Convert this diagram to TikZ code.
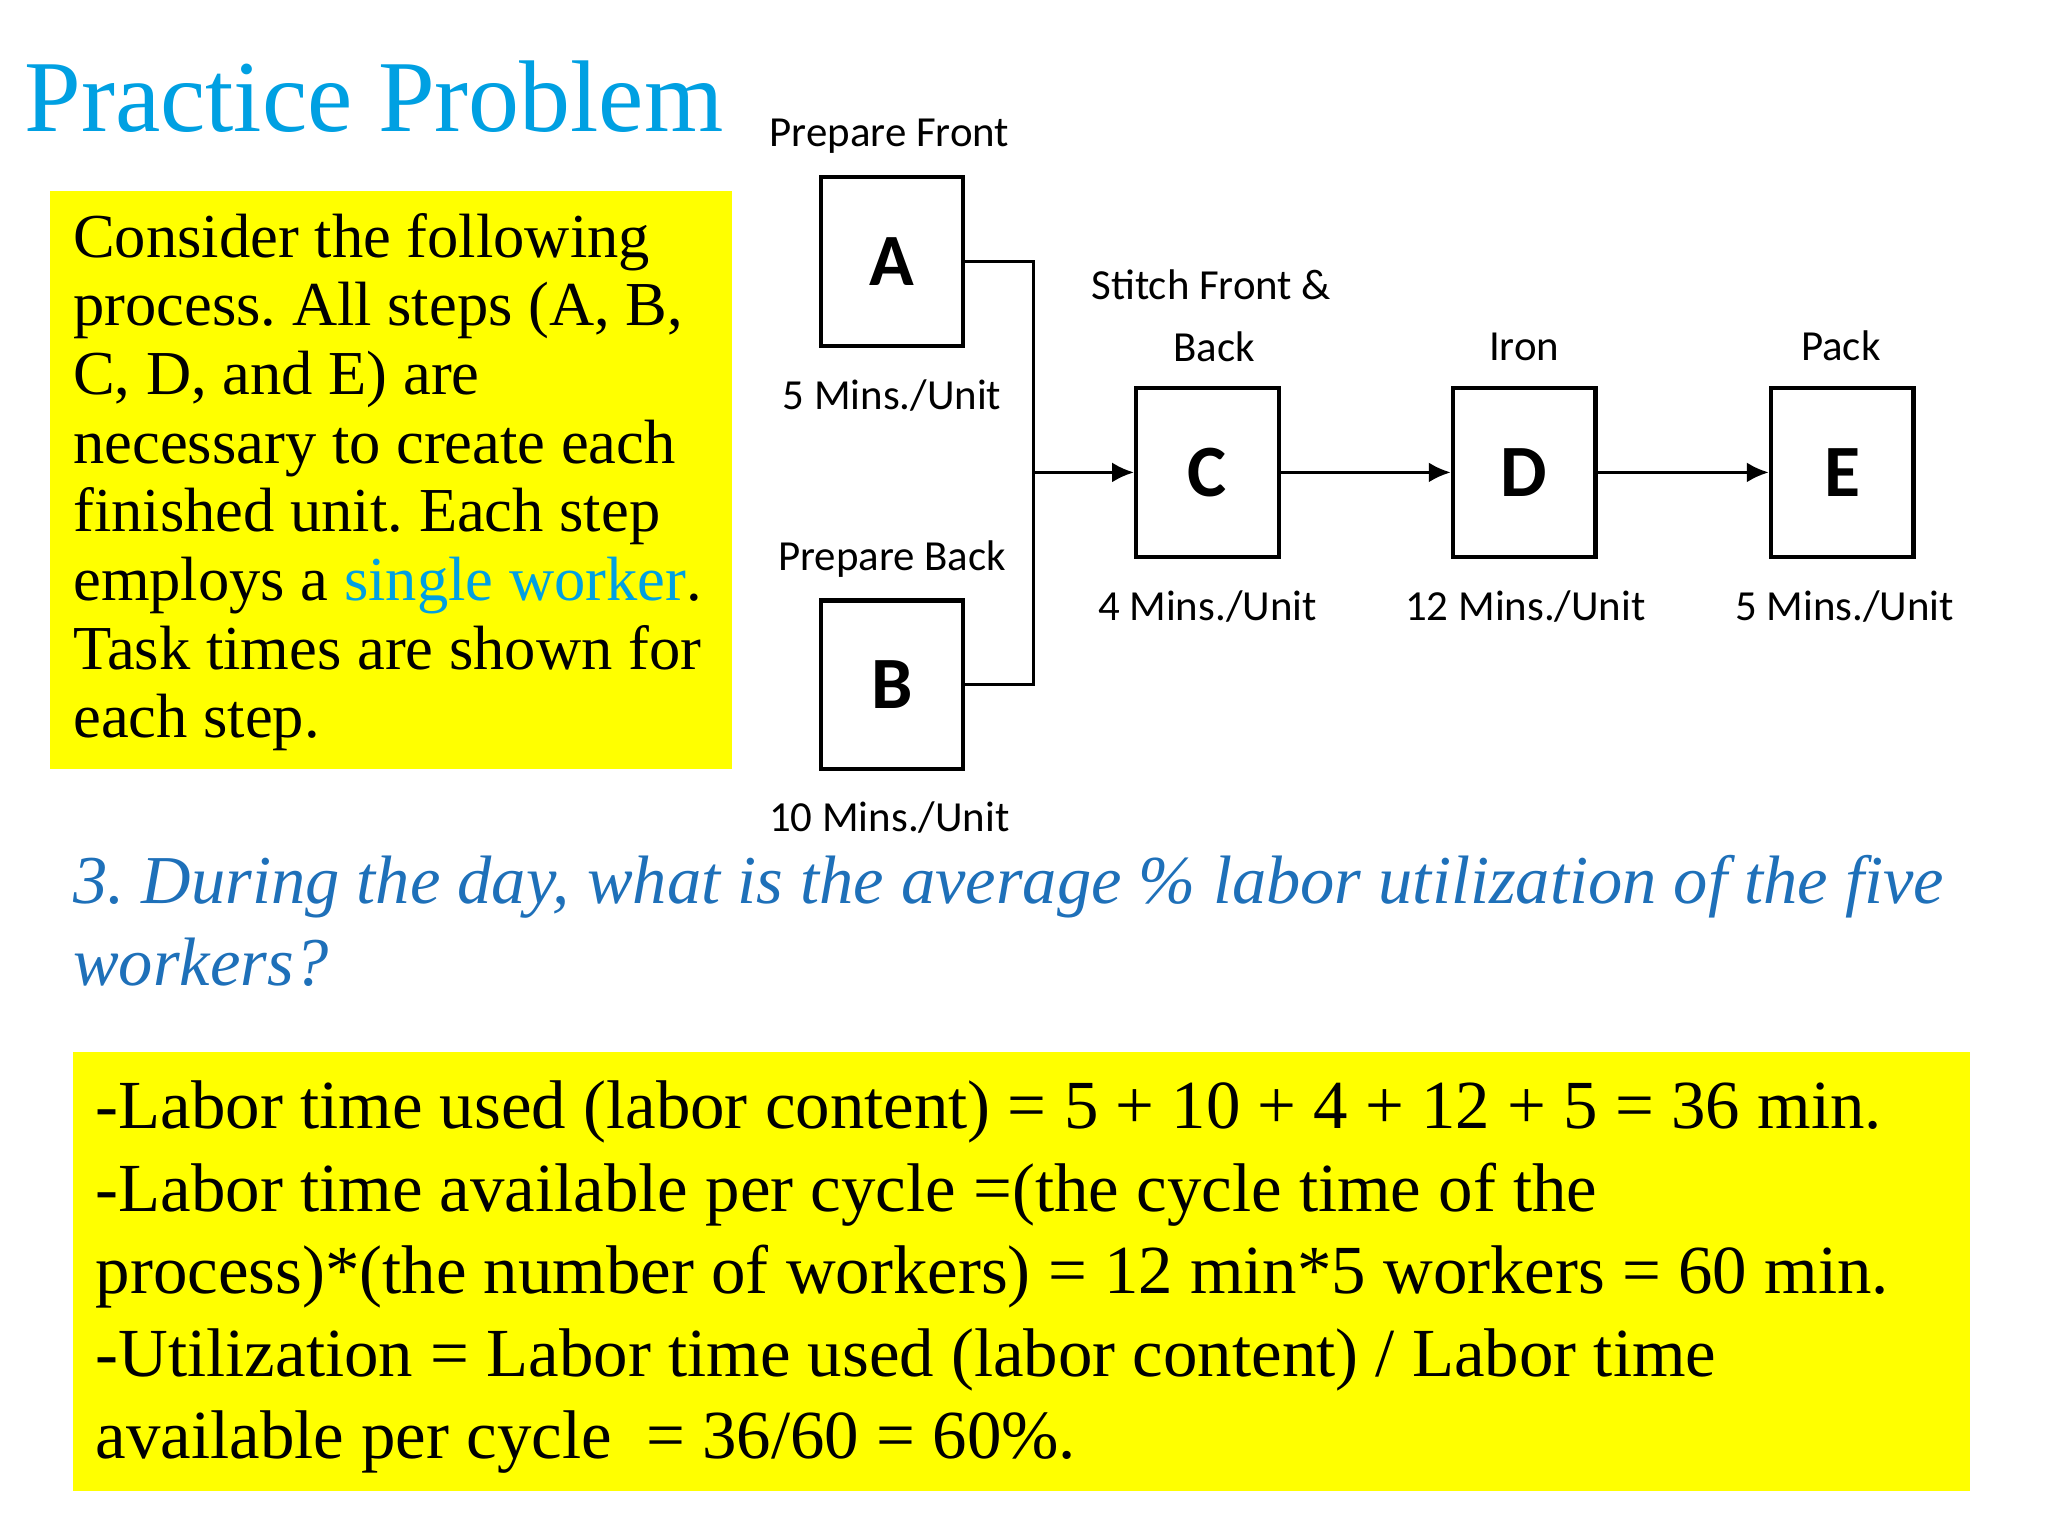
\documentclass[tikz,border=0pt]{standalone}
\usepackage{fontspec}
\setmainfont{Liberation Serif}
\newfontfamily\lab{Carlito}
\usetikzlibrary{arrows.meta}
\definecolor{ttl}{RGB}{0,160,226}
\definecolor{qblue}{RGB}{30,112,185}
\definecolor{yel}{RGB}{255,255,0}
\frenchspacing
\tikzset{
 stepbox/.style={draw,line width=1.2pt,minimum width=108*0.132mm,minimum height=128*0.132mm,inner sep=0pt,font=\lab\fontsize{21}{21}\bfseries\selectfont},
 lbl/.style={font=\lab\fontsize{12.2}{13}\selectfont,anchor=base,inner sep=0pt},
 l1/.style={anchor=base west,inner sep=0pt,font=\fontsize{17.8}{19}\selectfont},
 l2/.style={anchor=base west,inner sep=0pt,font=\fontsize{19.6}{23}\selectfont},
 conn/.style={line width=0.9pt},
 arr/.style={line width=0.9pt,-{Latex[length=2.2mm,width=2mm]}}
}
\begin{document}
\begin{tikzpicture}[x=0.132mm,y=-0.132mm]
\useasboundingbox (0,0) rectangle (1552,1164);
\fill[white] (0,0) rectangle (1552,1164);
\node[anchor=base west,inner sep=0pt,text=ttl,font=\fontsize{29}{29}\selectfont] (title) at (18,100) {Practice Problem};
\fill[yel] (38,145) rectangle (555,583);
\foreach \t [count=\i] in {Consider the following,process. All steps (A{,} B{,},C{,} D{,} and E) are,necessary to create each,finished unit. Each step,employs a \textcolor{ttl}{single worker}.,Task times are shown for,each step.}
  \node[l1] (p\i) at (55,143+52*\i) {\t};
\node[stepbox] (A) at (676,198) {A};
\node[stepbox] (B) at (676,519) {B};
\node[stepbox] (C) at (915,358) {C};
\node[stepbox] (D) at (1155,358) {D};
\node[stepbox] (E) at (1396,358) {E};
\node[lbl] (la1) at (674,111) {Prepare Front};
\node[lbl] (la2) at (676,310) {5 Mins./Unit};
\node[lbl] (lb1) at (676,432) {Prepare Back};
\node[lbl] (lb2) at (674,630) {10 Mins./Unit};
\node[lbl] (lc1) at (918,227) {Stitch Front \&};
\node[lbl] (lc2) at (920,274) {Back};
\node[lbl] (ld1) at (1155,273) {Iron};
\node[lbl] (le1) at (1395,273) {Pack};
\node[lbl] (lc3) at (915,470) {4 Mins./Unit};
\node[lbl] (ld2) at (1156,470) {12 Mins./Unit};
\node[lbl] (le2) at (1398,470) {5 Mins./Unit};
\coordinate (j) at (783,358);
\draw[conn] (A.east) -| (j) |- (B.east);
\draw[arr] (j) -- (C.west);
\draw[arr] (C) -- (D);
\draw[arr] (D) -- (E);
\node[l2,text=qblue,font=\fontsize{19.5}{23}\itshape\selectfont] (q1) at (55,685) {3. During the day, what is the average \% labor utilization of the five};
\node[l2,text=qblue,font=\fontsize{19.5}{23}\itshape\selectfont] (q2) at (55,747) {workers?};
\fill[yel] (55,797) rectangle (1493,1130);
\node[l2] (s1) at (72,855) {-Labor time used (labor content) = 5 + 10 + 4 + 12 + 5 = 36 min.};
\node[l2] (s2) at (72,918) {-Labor time available per cycle =(the cycle time of the};
\node[l2] (s3) at (72,980) {process)*(the number of workers) = 12 min*5 workers = 60 min.};
\node[l2] (s4) at (72,1043) {-Utilization = Labor time used (labor content) / Labor time};
\node[l2] (s5) at (72,1105) {available per cycle \ = 36/60 = 60\%.};
\end{tikzpicture}
\end{document}
